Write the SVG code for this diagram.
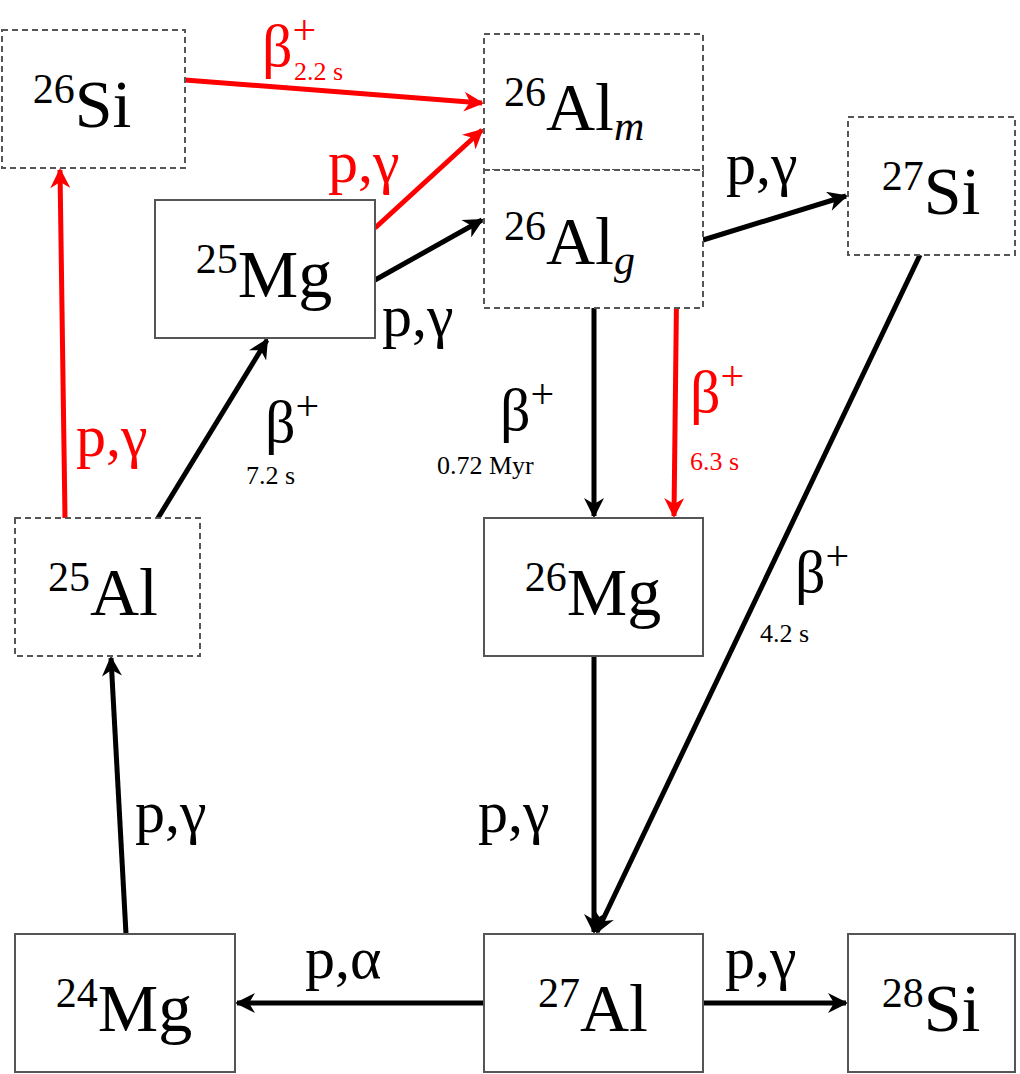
<svg xmlns="http://www.w3.org/2000/svg" width="1020" height="1074" viewBox="0 0 1020 1074">
<style>
.bx{fill:#fff;stroke:#555;stroke-width:2}
.d{stroke-dasharray:6 4}
.t{font-family:"Liberation Serif",serif;font-size:68px;fill:#000}
.s{font-size:42px}
.l{font-family:"Liberation Serif",serif;font-size:60px;fill:#000}
.sm{font-family:"Liberation Serif",serif;font-size:26px;fill:#000}
.r{fill:#f00}
.k{stroke:#000;stroke-width:5;fill:none}
.rd{stroke:#f00;stroke-width:5;fill:none}
</style>
<defs>
<marker id="ak" viewBox="0 0 10 10" refX="9" refY="5" markerWidth="5" markerHeight="4" orient="auto" markerUnits="strokeWidth"><path d="M0,0 L10,5 L0,10 L3,5 z" fill="#000"/></marker>
<marker id="ar" viewBox="0 0 10 10" refX="9" refY="5" markerWidth="5" markerHeight="4" orient="auto" markerUnits="strokeWidth"><path d="M0,0 L10,5 L0,10 L3,5 z" fill="#f00"/></marker>
</defs>
<g id="connectors">
<line class="rd" x1="185" y1="80" x2="482" y2="103" marker-end="url(#ar)"/>
<line class="rd" x1="375" y1="228" x2="482" y2="130" marker-end="url(#ar)"/>
<line class="k" x1="375" y1="280" x2="482" y2="220" marker-end="url(#ak)"/>
<line class="k" x1="703" y1="240" x2="846" y2="196" marker-end="url(#ak)"/>
<line class="rd" x1="65" y1="518" x2="60" y2="170" marker-end="url(#ar)"/>
<line class="k" x1="158" y1="518" x2="267" y2="340" marker-end="url(#ak)"/>
<line class="k" x1="594" y1="308" x2="594" y2="516" marker-end="url(#ak)"/>
<line class="rd" x1="678" y1="170" x2="674" y2="516" marker-end="url(#ar)"/>
<line class="k" x1="920" y1="255" x2="597" y2="932" marker-end="url(#ak)"/>
<line class="k" x1="594" y1="656" x2="594" y2="932" marker-end="url(#ak)"/>
<line class="k" x1="126" y1="934" x2="111" y2="658" marker-end="url(#ak)"/>
<line class="k" x1="484" y1="1003" x2="237" y2="1003" marker-end="url(#ak)"/>
<line class="k" x1="703" y1="1003" x2="846" y2="1003" marker-end="url(#ak)"/>
</g>
<g id="labels">
<text class="l r" x="262" y="66">β<tspan class="s" dy="-22">+</tspan></text>
<text class="sm r" x="294" y="80">2.2 s</text>
<text class="l r" x="328" y="182">p,γ</text>
<text class="l" x="382" y="336">p,γ</text>
<text class="l" x="726" y="184">p,γ</text>
<text class="l r" x="76" y="456">p,γ</text>
<text class="l" x="265" y="442">β<tspan class="s" dy="-22">+</tspan></text>
<text class="sm" x="246" y="484">7.2 s</text>
<text class="l" x="500" y="430">β<tspan class="s" dy="-22">+</tspan></text>
<text class="sm" x="437" y="474">0.72 Myr</text>
<text class="l r" x="690" y="412">β<tspan class="s" dy="-22">+</tspan></text>
<text class="sm r" x="690" y="470">6.3 s</text>
<text class="l" x="795" y="592">β<tspan class="s" dy="-22">+</tspan></text>
<text class="sm" x="760" y="642">4.2 s</text>
<text class="l" x="478" y="832">p,γ</text>
<text class="l" x="135" y="832">p,γ</text>
<text class="l" x="305" y="978">p,α</text>
<text class="l" x="725" y="978">p,γ</text>
</g>
<g id="n26Si"><rect class="bx d" x="2" y="30" width="183" height="138" stroke="#000"/><text class="t" x="82" y="127" text-anchor="middle"><tspan class="s" dy="-24">26</tspan><tspan dy="24">Si</tspan></text></g>
<g id="n26Alm"><rect class="bx d" x="484" y="34" width="219" height="136"/><text class="t" x="504" y="130"><tspan class="s" dy="-24">26</tspan><tspan dy="24">Al</tspan><tspan class="s" font-style="italic" dy="10">m</tspan></text></g>
<g id="n26Alg"><rect class="bx d" x="484" y="170" width="219" height="138"/><text class="t" x="504" y="264"><tspan class="s" dy="-24">26</tspan><tspan dy="24">Al</tspan><tspan class="s" font-style="italic" dy="10">g</tspan></text></g>
<g id="n27Si"><rect class="bx d" x="848" y="117" width="167" height="138"/><text class="t" x="931" y="214" text-anchor="middle"><tspan class="s" dy="-24">27</tspan><tspan dy="24">Si</tspan></text></g>
<g id="n25Mg"><rect class="bx" x="155" y="200" width="220" height="138"/><text class="t" x="264" y="297" text-anchor="middle"><tspan class="s" dy="-24">25</tspan><tspan dy="24">Mg</tspan></text></g>
<g id="n25Al"><rect class="bx d" x="15" y="518" width="185" height="138"/><text class="t" x="103" y="615" text-anchor="middle"><tspan class="s" dy="-24">25</tspan><tspan dy="24">Al</tspan></text></g>
<g id="n26Mg"><rect class="bx" x="484" y="518" width="219" height="138"/><text class="t" x="593" y="615" text-anchor="middle"><tspan class="s" dy="-24">26</tspan><tspan dy="24">Mg</tspan></text></g>
<g id="n24Mg"><rect class="bx" x="15" y="934" width="220" height="138"/><text class="t" x="124" y="1031" text-anchor="middle"><tspan class="s" dy="-24">24</tspan><tspan dy="24">Mg</tspan></text></g>
<g id="n27Al"><rect class="bx" x="484" y="934" width="219" height="138"/><text class="t" x="593" y="1031" text-anchor="middle"><tspan class="s" dy="-24">27</tspan><tspan dy="24">Al</tspan></text></g>
<g id="n28Si"><rect class="bx" x="848" y="934" width="167" height="138"/><text class="t" x="931" y="1031" text-anchor="middle"><tspan class="s" dy="-24">28</tspan><tspan dy="24">Si</tspan></text></g>
</svg>
